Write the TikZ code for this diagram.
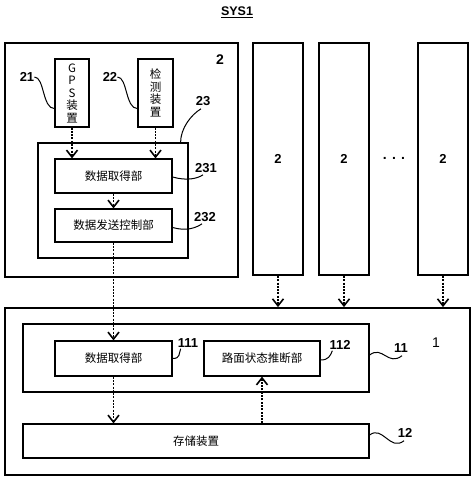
\documentclass[tikz,border=0pt]{standalone}
\usepackage{fontspec}
\setmainfont{Noto Sans CJK SC}
\newfontfamily\numfont{Liberation Sans}
\usetikzlibrary{arrows.meta,calc}
\tikzset{
  box/.style={draw=black, line width=1.2pt, inner sep=0pt, align=center, font=\fontsize{11.5}{12}\selectfont},
  vbox/.style={box, font=\fontsize{11.5}{12.5}\selectfont},
  outerbox/.style={draw=black, line width=1.8pt, inner sep=0pt},
  num/.style={font=\numfont\bfseries\fontsize{13}{14}\selectfont, inner sep=0pt},
  arrow/.style={-{Straight Barb[length=7pt,width=11pt,line width=1.6pt]}, dash pattern=on 2pt off 1.3pt, line width=1.6pt},
  lead/.style={line width=1pt}
}

\begin{document}
\begin{tikzpicture}[x=1pt, y=1pt]
  \useasboundingbox (0,0) rectangle (474,-481);

  % title
  \node[num, font=\numfont\bfseries\fontsize{12.5}{14}\selectfont] (title) at (237,-12) {\underline{SYS1}};

  % vehicle side 2 (detailed)
  \node[outerbox, minimum width=233, minimum height=234] (sysA) at (121.5,-160) {};
  \node[num, font=\numfont\bfseries\fontsize{14}{16}\selectfont] (lA) at (220,-60) {2};
  \node[vbox, minimum width=34, minimum height=68] (gps) at (72,-93) {G\\P\\S\\装\\置};
  \node[vbox, minimum width=35, minimum height=68] (detect) at (155.5,-93) {检\\测\\装\\置};
  \node[box, minimum width=150, minimum height=115] (ctl) at (113,-200.5) {};
  \node[box, minimum width=117, minimum height=34] (get) at (113.5,-176) {数据取得部};
  \node[box, minimum width=117, minimum height=33] (send) at (113.5,-225.5) {数据发送控制部};

  % reference numbers of 2
  \node[num] (l21) at (27,-77) {21};
  \node[num] (l22) at (110,-77) {22};
  \node[num] (l23) at (203,-101) {23};
  \node[num] (l231) at (206,-168) {231};
  \node[num] (l232) at (205,-217) {232};
  \draw[lead] (l21.east) .. controls +(10,0) and +(-12,0) .. ($(gps.south west)+(0,19)$);
  \draw[lead] (l22.east) .. controls +(10,0) and +(-12,0) .. ($(detect.south west)+(0,19)$);
  \draw[lead] ($(l23.south)+(-2,-3)$) .. controls +(-10,-6) and +(0,14) .. ($(ctl.north east)+(-8,0)$);
  \draw[lead] ($(get.east)+(0,-1)$) .. controls +(14,-4) and +(-6,-4) .. ($(l231.south)+(-3,-2)$);
  \draw[lead] ($(send.east)+(0,-2)$) .. controls +(14,-4) and +(-6,-4) .. ($(l232.south)+(-3,-2)$);

  % the other vehicles 2
  \node[outerbox, minimum width=50, minimum height=232] (sysB) at (278,-159) {};
  \node[outerbox, minimum width=50, minimum height=232] (sysC) at (344,-159) {};
  \node[outerbox, minimum width=50, minimum height=232] (sysD) at (443,-159) {};
  \node[num] (lB) at (sysB) {2};
  \node[num] (lC) at (sysC) {2};
  \node[num] (lD) at (sysD) {2};
  \node[num, font=\numfont\bfseries\fontsize{14}{14}\selectfont] (dots) at (394,-158) {. . .};

  % server 1
  \node[outerbox, minimum width=465, minimum height=167] (server) at (237.5,-391.5) {};
  \node[num, font=\numfont\fontsize{14}{16}\selectfont] (l1) at (436,-343) {1};
  \node[box, minimum width=346, minimum height=68] (proc) at (196,-358) {};
  \node[box, minimum width=117, minimum height=35] (get1) at (113.5,-358.5) {数据取得部};
  \node[box, minimum width=116, minimum height=35] (estim) at (262,-358.5) {路面状态推断部};
  \node[box, minimum width=346, minimum height=34] (store) at (196,-441) {存储装置};

  % reference numbers of 1
  \node[num] (l111) at (188,-343) {111};
  \node[num] (l112) at (340,-345) {112};
  \node[num] (l11) at (401,-348) {11};
  \node[num] (l12) at (405,-433) {12};
  \draw[lead] (get1.east) .. controls +(8,0) and +(-2,-5) .. ($(l111.south west)+(3,-1)$);
  \draw[lead] ($(estim.east)+(0,-1.5)$) .. controls +(8,0) and +(-2,-5) .. ($(l112.south west)+(3,-1)$);
  \draw[lead] ($(proc.east)+(0,3)$) .. controls +(13,10) and +(-14,-11) .. ($(l11.south)+(1,-3)$);
  \draw[lead] ($(store.east)+(0,6)$) .. controls +(13,10) and +(-14,-11) .. ($(l12.south)+(-1,-3)$);

  % data flow
  \draw[arrow] (gps.south) -- (gps.south |- get.north);
  \draw[arrow] (detect.south) -- (detect.south |- get.north);
  \draw[arrow] (get.south) -- (send.north);
  \draw[arrow] (send.south) -- (get1.north);
  \draw[arrow] (sysB.south) -- (sysB.south |- server.north);
  \draw[arrow] (sysC.south) -- (sysC.south |- server.north);
  \draw[arrow] (sysD.south) -- (sysD.south |- server.north);
  \draw[arrow] (get1.south) -- (get1.south |- store.north);
  \draw[arrow] (store.north -| estim.south) -- (estim.south);
\end{tikzpicture}
\end{document}
